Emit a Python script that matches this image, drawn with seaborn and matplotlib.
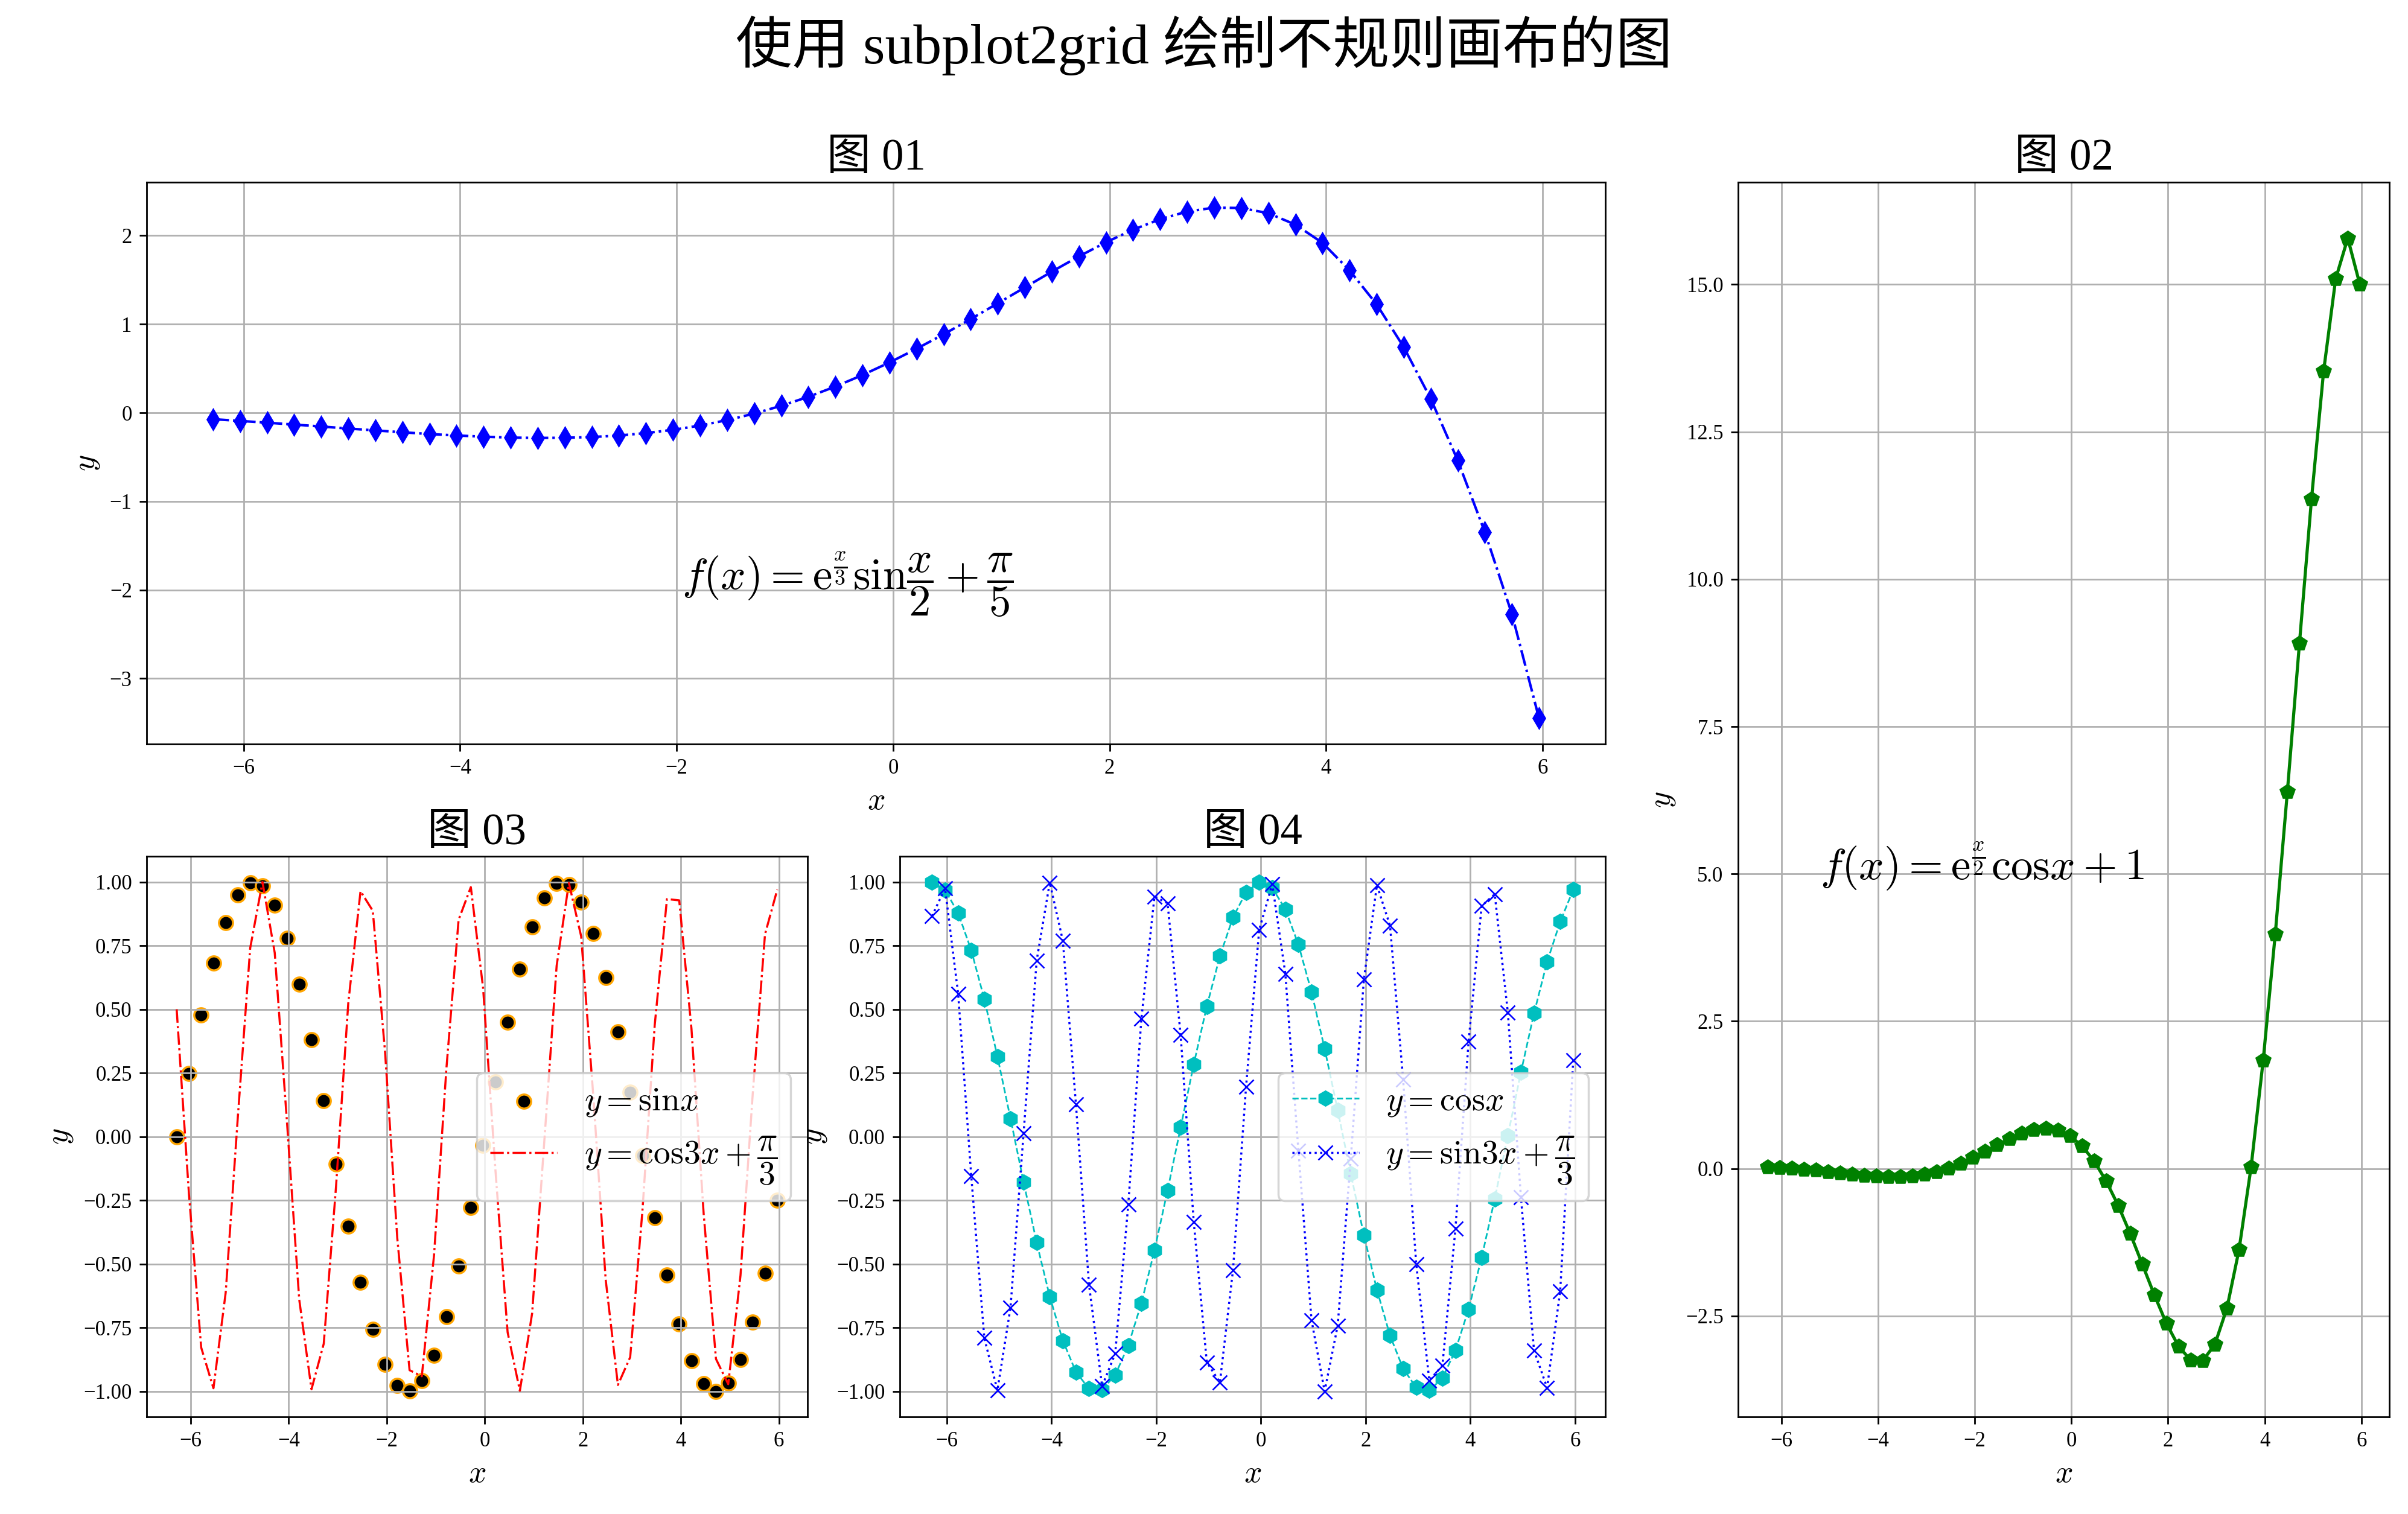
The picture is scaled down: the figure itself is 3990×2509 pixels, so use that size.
import numpy as np
import matplotlib
matplotlib.use("Agg")
import matplotlib.pyplot as plt
import seaborn as sns
from matplotlib import font_manager

cjk = None
for f in font_manager.fontManager.ttflist:
    if "CJK" in f.name and ("SC" in f.name or "JP" in f.name):
        cjk = f.name
        break
plt.rcParams["font.family"] = ["Liberation Serif"] + ([cjk] if cjk else [])
plt.rcParams["mathtext.fontset"] = "cm"

x = [-6.283, -6.033, -5.783, -5.533, -5.283, -5.033, -4.783, -4.533, -4.283, -4.033,
     -3.783, -3.533, -3.283, -3.033, -2.783, -2.533, -2.283, -2.033, -1.783, -1.533,
     -1.283, -1.033, -0.783, -0.533, -0.283, -0.033, 0.217, 0.467, 0.717, 0.967,
     1.217, 1.467, 1.717, 1.967, 2.217, 2.467, 2.717, 2.967, 3.217, 3.467,
     3.717, 3.967, 4.217, 4.467, 4.717, 4.967, 5.217, 5.467, 5.717, 5.967]

f1 = [-0.072, -0.092, -0.112, -0.133, -0.155, -0.178, -0.199, -0.220, -0.240, -0.256,
      -0.270, -0.280, -0.284, -0.282, -0.274, -0.257, -0.229, -0.193, -0.144, -0.083,
      -0.009, 0.079, 0.180, 0.296, 0.426, 0.568, 0.723, 0.886, 1.058, 1.236,
      1.415, 1.594, 1.766, 1.925, 2.067, 2.186, 2.272, 2.316, 2.312, 2.253,
      2.124, 1.918, 1.607, 1.224, 0.742, 0.157, -0.541, -1.349, -2.274, -3.45]

f2 = [0.023, 0.015, 0.004, -0.011, -0.030, -0.051, -0.073, -0.096, -0.116, -0.132,
      -0.141, -0.140, -0.127, -0.098, -0.052, 0.010, 0.091, 0.185, 0.290, 0.400,
      0.505, 0.596, 0.660, 0.683, 0.654, 0.558, 0.385, 0.131, -0.209, -0.625,
      -1.105, -1.624, -2.147, -2.630, -3.017, -3.250, -3.259, -2.985, -2.369, -1.379,
      0.026, 1.836, 3.980, 6.392, 8.910, 11.365, 13.528, 15.098, 15.785, 15.0]

sin_x = [0, 0.247, 0.479, 0.682, 0.841, 0.949, 0.997, 0.984, 0.909, 0.778,
         0.598, 0.381, 0.141, -0.108, -0.351, -0.572, -0.757, -0.894, -0.978, -0.999,
         -0.959, -0.859, -0.706, -0.508, -0.279, -0.033, 0.215, 0.450, 0.657, 0.823,
         0.938, 0.995, 0.989, 0.922, 0.798, 0.625, 0.412, 0.174, -0.075, -0.319,
         -0.544, -0.735, -0.880, -0.970, -1.000, -0.967, -0.875, -0.728, -0.536, -0.25]

cos3x = [0.5, -0.224, -0.828, -0.988, -0.612, 0.084, 0.741, 1.0, 0.722, 0.057,
         -0.640, -0.992, -0.813, -0.197, 0.524, 0.964, 0.887, 0.333, -0.399, -0.917,
         -0.941, -0.464, 0.264, 0.851, 0.980, 0.584, -0.127, -0.768, -0.998, -0.694,
         -0.014, 0.671, 0.996, 0.787, 0.155, -0.561, -0.975, -0.866, -0.291, 0.437,
         0.933, 0.928, 0.424, -0.306, -0.873, -0.972, -0.545, 0.169, 0.795, 0.97]

cos_x = [1, 0.969, 0.878, 0.732, 0.540, 0.315, 0.071, -0.178, -0.416, -0.628,
         -0.801, -0.924, -0.990, -0.994, -0.936, -0.820, -0.654, -0.447, -0.211, 0.036,
         0.284, 0.512, 0.709, 0.861, 0.960, 0.999, 0.977, 0.893, 0.754, 0.568,
         0.346, 0.104, -0.146, -0.386, -0.602, -0.781, -0.911, -0.985, -0.997, -0.948,
         -0.839, -0.678, -0.475, -0.244, 0.004, 0.253, 0.484, 0.686, 0.844, 0.970]

sin3x = [0.866, 0.975, 0.561, -0.154, -0.791, -0.996, -0.671, 0.014, 0.692, 0.998,
         0.769, 0.127, -0.582, -0.980, -0.852, -0.266, 0.463, 0.943, 0.917, 0.399,
         -0.334, -0.886, -0.965, -0.524, 0.197, 0.812, 0.992, 0.640, -0.056, -0.720,
         -1.000, -0.742, -0.085, 0.617, 0.988, 0.828, 0.224, -0.500, -0.957, -0.899,
         -0.360, 0.373, 0.906, 0.952, 0.488, -0.237, -0.839, -0.986, -0.607, 0.30]

fig = plt.figure(figsize=(15.96, 10.036), dpi=250)
ax1 = plt.subplot2grid((2, 3), (0, 0), colspan=2)
ax2 = plt.subplot2grid((2, 3), (0, 2), rowspan=2)
ax3 = plt.subplot2grid((2, 3), (1, 0))
ax4 = plt.subplot2grid((2, 3), (1, 1))
W, H = 1560, 981
def pos(ax, l, t, r, b):
    ax.set_position([l / W, 1 - b / H, (r - l) / W, (b - t) / H])
pos(ax1, 95, 118, 1040, 482)
pos(ax2, 1126, 118, 1548, 918)
pos(ax3, 95, 555, 523, 918)
pos(ax4, 583, 555, 1040, 918)

fig.suptitle("使用 subplot2grid 绘制不规则画布的图", fontsize=27, y=0.99)

sns.lineplot(x=x, y=f1, ax=ax1, color="b", marker="d", linestyle="-.", markersize=7,
             markeredgecolor="b", linewidth=1.2, sort=False)
ax1.set_title("图 01", fontsize=21)
ax1.text(-1.95, -2.0, r"$f(x)=\mathrm{e}^{\frac{x}{3}}\mathrm{sin}\dfrac{x}{2}+\dfrac{\pi}{5}$", fontsize=21)

sns.lineplot(x=x, y=f2, ax=ax2, color="g", marker="p", linestyle="-", markersize=7,
             markeredgecolor="g", sort=False)
ax2.set_title("图 02", fontsize=21)
ax2.text(-5.2, 4.9, r"$f(x)=\mathrm{e}^{\frac{x}{2}}\mathrm{cos}x+1$", fontsize=21)

sns.scatterplot(x=x, y=sin_x, ax=ax3, color="k", edgecolor="orange", s=45, linewidth=1,
                label=r"$y=\mathrm{sin}x$")
sns.lineplot(x=x, y=cos3x, ax=ax3, color="r", linestyle="-.", linewidth=1, sort=False,
             label=r"$y=\mathrm{cos}3x+\dfrac{\pi}{3}$")
ax3.set_title("图 03", fontsize=21)
ax3.legend(loc="center right", fontsize=16, framealpha=0.8)

sns.lineplot(x=x, y=cos_x, ax=ax4, color="c", marker="h", linestyle="--", linewidth=0.8,
             markersize=7, markeredgecolor="c", sort=False, label=r"$y=\mathrm{cos}x$")
sns.lineplot(x=x, y=sin3x, ax=ax4, color="b", marker="x", linestyle=":", linewidth=1,
             markersize=7, markeredgecolor="b", sort=False,
             label=r"$y=\mathrm{sin}3x+\dfrac{\pi}{3}$")
ax4.set_title("图 04", fontsize=21)
ax4.legend(loc="center right", fontsize=16, framealpha=0.8)

for ax in (ax1, ax2, ax3, ax4):
    ax.grid(True)
    ax.set_xlabel(r"$x$", fontsize=15)
    ax.set_ylabel(r"$y$", fontsize=15)
    ax.tick_params(labelsize=10)
    ax.set_xticks([-6, -4, -2, 0, 2, 4, 6])

fig.savefig("out.png", dpi=250)
